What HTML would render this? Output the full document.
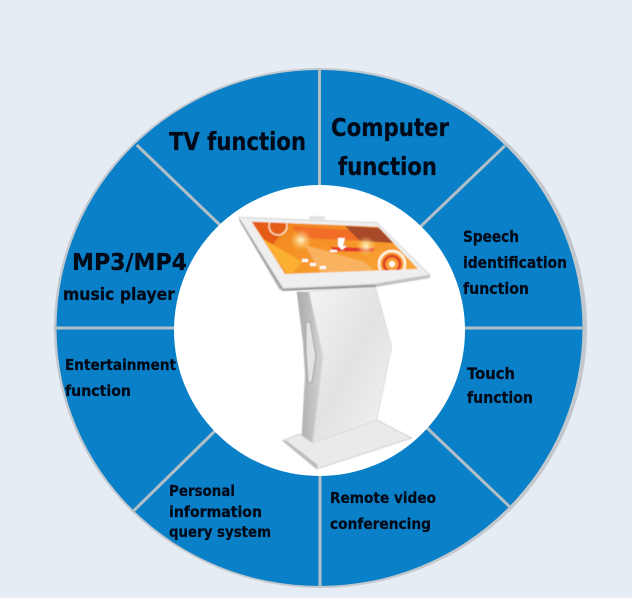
<!DOCTYPE html>
<html><head><meta charset="utf-8">
<style>
html,body{margin:0;padding:0;width:632px;height:598px;overflow:hidden;background:#e5ecf3}
svg{display:block}
text{font-family:"DejaVu Sans","Liberation Sans",sans-serif;font-weight:bold;fill:#000a18;stroke:#000a18;stroke-width:.25}
</style></head>
<body>
<svg width="632" height="598" viewBox="0 0 632 598" xmlns="http://www.w3.org/2000/svg">
<defs>
<linearGradient id="front" x1="0" y1="0" x2="1" y2="1"><stop offset="0" stop-color="#f4f4f4"/><stop offset=".5" stop-color="#e2e2e2"/><stop offset="1" stop-color="#f3f3f3"/></linearGradient>
<linearGradient id="side" x1="0" y1="0" x2="1" y2="0"><stop offset="0" stop-color="#a9a9a9"/><stop offset="1" stop-color="#d4d4d4"/></linearGradient>
<linearGradient id="scr" x1="0" y1="0" x2="1" y2="1"><stop offset="0" stop-color="#f0811a"/><stop offset=".5" stop-color="#f6952a"/><stop offset="1" stop-color="#f9a835"/></linearGradient>
<radialGradient id="glow"><stop offset="0" stop-color="#fff8d0"/><stop offset="1" stop-color="#ffd060" stop-opacity="0"/></radialGradient>
<clipPath id="sc"><polygon points="251.7,221.7 378,226.7 418,269 285,274"/></clipPath>
<filter id="soft" x="-5%" y="-5%" width="110%" height="110%"><feGaussianBlur stdDeviation=".45"/></filter>
</defs>
<rect width="632" height="598" fill="#e5ecf3"/>
<ellipse cx="320.5" cy="328" rx="266.5" ry="260" fill="#c3c8cd"/>
<ellipse cx="319.5" cy="328" rx="263" ry="258" fill="#0a80c8"/>
<g stroke="#b3bfc6" stroke-width="3" fill="none">
<line x1="319.5" y1="69" x2="319.5" y2="190"/>
<line x1="320" y1="470" x2="320" y2="587"/>
<line x1="54" y1="328" x2="180" y2="328"/>
<line x1="460" y1="328" x2="584" y2="328"/>
<line x1="136.7" y1="145" x2="222" y2="227"/>
<line x1="505" y1="145.7" x2="418" y2="229"/>
<line x1="216" y1="430" x2="132.7" y2="511.7"/>
<line x1="425" y1="426" x2="510" y2="507"/>
</g>
<circle cx="319.5" cy="330.5" r="145.5" fill="#fff"/>

<g filter="url(#soft)">
<!-- kiosk base -->
<polygon points="282.7,440.7 300,434 312.7,443 376.7,420 411.7,438 316.7,469" fill="#eaeaea" stroke="#cfcfcf" stroke-width="1"/>
<polygon points="282.7,440.7 316.7,469 318,465 287,441" fill="#bdbdbd"/>
<!-- kiosk column -->
<polygon points="296.7,291.7 309,291.7 323,356.7 312.7,443 301.7,435 305,375 303,343" fill="url(#side)"/>
<polygon points="309,291.7 375,285 391.7,346.7 376.7,420 312.7,443 323,356.7" fill="url(#front)" stroke="#d8d8d8" stroke-width=".8"/>
<polygon points="306,322 310,322 316,356 312,382 308,383 306,350" fill="#e4e4e4" stroke="#9c9c9c" stroke-width=".9"/>
<!-- vent strip -->
<polygon points="281,288 375,284 376,287 282,291" fill="#9a9a9a"/>
<!-- screen frame -->
<polygon points="238.7,217.3 376.7,222.7 430,275 375,284 281.7,288.3" fill="#efefef" stroke="#dadada" stroke-width="1.2" stroke-linejoin="round"/>
<polygon points="238.7,217.3 240,222 280,290 283,288 " fill="#a8a8a8"/>
<polygon points="375,284 430,275 430,278 376,287" fill="#c2c2c2"/>
<rect x="309" y="216" width="16" height="6" rx="1.5" fill="#e2e2e2"/>
<!-- screen -->
<polygon points="251.7,221.7 378,226.7 418,269 285,274" fill="url(#scr)"/>
<g clip-path="url(#sc)">
<polygon points="252,222 290,223 270,248" fill="#e55c18"/>
<polygon points="258,236 302,262 290,276 268,250" fill="#fcb030"/>
<polygon points="292,226 378,232 388,242 300,238" fill="#f26a28" opacity=".9"/>
<polygon points="305,245 365,262 375,272 320,272" fill="#f9b66a" opacity=".85"/>
<polygon points="345,226 380,228 394,243 360,241" fill="#a8482a"/>
<polygon points="330,247 375,248 372,252 335,251" fill="#e23a2a"/>
<polygon points="338,238 345,238 343,246 347,246 342,250 338,246" fill="#fff"/>
<circle cx="301" cy="240" r="11" fill="url(#glow)"/>
<circle cx="366" cy="246" r="10" fill="url(#glow)"/>
<circle cx="392" cy="264" r="13" fill="none" stroke="#fff" stroke-width="2.5" opacity=".9"/>
<circle cx="392" cy="264" r="8" fill="none" stroke="#e2402a" stroke-width="3"/>
<circle cx="392" cy="264" r="3" fill="#fff"/>
<circle cx="278" cy="226" r="9" fill="none" stroke="#fbe2c0" stroke-width="1.5"/>
<g fill="#fff"><rect x="302" y="259" width="6" height="3"/><rect x="310" y="263" width="6" height="3"/><rect x="320" y="266" width="6" height="3"/><rect x="330" y="250" width="7" height="2"/></g>
</g>
</g>

<!-- labels -->
<text x="169" y="150" font-size="25" textLength="137" lengthAdjust="spacingAndGlyphs">TV function</text>
<text x="331" y="136" font-size="25" textLength="118" lengthAdjust="spacingAndGlyphs">Computer</text>
<text x="338" y="175" font-size="25" textLength="99" lengthAdjust="spacingAndGlyphs">function</text>
<text x="463" y="242" font-size="16" textLength="56" lengthAdjust="spacingAndGlyphs">Speech</text>
<text x="463" y="268" font-size="16" textLength="104" lengthAdjust="spacingAndGlyphs">identification</text>
<text x="463" y="294" font-size="16" textLength="66" lengthAdjust="spacingAndGlyphs">function</text>
<text x="467" y="379" font-size="16" textLength="48" lengthAdjust="spacingAndGlyphs">Touch</text>
<text x="467" y="403" font-size="16" textLength="66" lengthAdjust="spacingAndGlyphs">function</text>
<text x="330" y="503" font-size="15" textLength="106" lengthAdjust="spacingAndGlyphs">Remote video</text>
<text x="330" y="529" font-size="15" textLength="101" lengthAdjust="spacingAndGlyphs">conferencing</text>
<text x="169" y="496" font-size="15" textLength="66" lengthAdjust="spacingAndGlyphs">Personal</text>
<text x="169" y="517" font-size="15" textLength="93" lengthAdjust="spacingAndGlyphs">information</text>
<text x="169" y="537" font-size="15" textLength="102" lengthAdjust="spacingAndGlyphs">query system</text>
<text x="65" y="370" font-size="15" textLength="111" lengthAdjust="spacingAndGlyphs">Entertainment</text>
<text x="65" y="396" font-size="15" textLength="66" lengthAdjust="spacingAndGlyphs">function</text>
<text x="72" y="270" font-size="23" textLength="115" lengthAdjust="spacingAndGlyphs">MP3/MP4</text>
<text x="63" y="300" font-size="16.5" textLength="112" lengthAdjust="spacingAndGlyphs">music player</text>
</svg>
</body></html>
